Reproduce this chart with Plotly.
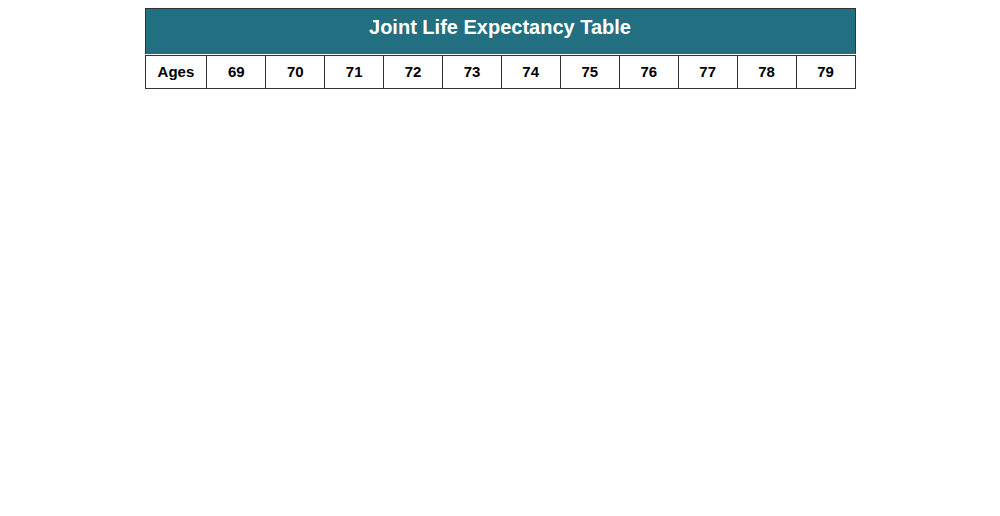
import plotly.graph_objects as go

title = "Joint Life Expectancy Table"
ages = ["107", "108", "109", "110", "111", "112", "113", "114", "115", "116", "117", "118", "119", "120+"]
spouse_ages = ["69", "70", "71", "72", "73", "74", "75", "76", "77", "78", "79"]

age_69 = [19.6, 19.6, 19.6, 19.6, 19.6, 19.6, 19.6, 19.6, 19.6, 19.6, 19.6, 19.6, 19.6, 19.6]
age_70 = [18.8, 18.8, 18.8, 18.8, 18.8, 18.8, 18.8, 18.8, 18.8, 18.8, 18.8, 18.8, 18.8, 18.8]
age_71 = [18.0, 18.0, 18.0, 18.0, 18.0, 18.0, 18.0, 18.0, 18.0, 18.0, 18.0, 18.0, 18.0, 18.0]
age_72 = [17.2, 17.2, 17.2, 17.2, 17.2, 17.2, 17.2, 17.2, 17.2, 17.2, 17.2, 17.2, 17.2, 17.2]
age_73 = [16.5, 16.5, 16.4, 16.4, 16.4, 16.4, 16.4, 16.4, 16.4, 16.4, 16.4, 16.4, 16.4, 16.4]
age_74 = [15.7, 15.7, 15.7, 15.7, 15.7, 15.7, 15.7, 15.7, 15.7, 15.6, 15.6, 15.6, 15.6, 15.6]
age_75 = [14.9, 14.9, 14.9, 14.9, 14.9, 14.9, 14.9, 14.9, 14.9, 14.9, 14.9, 14.9, 14.8, 14.8]
age_76 = [14.2, 14.2, 14.2, 14.2, 14.2, 14.2, 14.2, 14.1, 14.1, 14.1, 14.1, 14.1, 14.1, 14.1]
age_77 = [13.4, 13.4, 13.4, 13.4, 13.4, 13.4, 13.4, 13.4, 13.4, 13.4, 13.4, 13.4, 13.4, 13.3]
age_78 = [12.7, 12.7, 12.7, 12.7, 12.7, 12.7, 12.7, 12.7, 12.7, 12.7, 12.7, 12.6, 12.6, 12.6]
age_79 = [12.0, 12.0, 12.0, 12.0, 12.0, 12.0, 12.0, 12.0, 12.0, 12.0, 12.0, 11.9, 11.9, 11.9]

value_columns = [age_69, age_70, age_71, age_72, age_73, age_74, age_75, age_76, age_77, age_78, age_79]

W, H = 1000, 516
off = 8  # page body margin
left, right, top_title, top_table = 145 - off, 855 - off, 8 - off, 55 - off
teal = "#236f82"
font = "Liberation Sans, Arial"

header = ["<b>Ages</b>"] + ["<b>%s</b>" % a for a in spouse_ages]
cells = [["<b>%s</b>" % a for a in ages]] + [["%.1f" % v for v in col] for col in value_columns]

fig = go.Figure()

# title bar as a one-cell table
fig.add_trace(go.Table(
    domain=dict(x=[left / W, right / W], y=[1 - top_table / H, 1 - top_title / H]),
    header=dict(values=["<b>%s</b>" % title], height=46, align="center", fill_color=teal,
                line=dict(color="#333333", width=1),
                font=dict(family=font, size=20, color="white")),
    cells=dict(values=[[]], height=0),
))

fig.add_trace(go.Table(
    domain=dict(x=[left / W, right / W], y=[0, 1 - top_table / H]),
    columnwidth=[62] + [59] * 11,
    header=dict(values=header, height=30, align="center", fill_color="white",
                line=dict(color="#333333", width=1),
                font=dict(family=font, size=15, color="black")),
    cells=dict(values=cells, height=30, align="center", fill_color="white",
               line=dict(color="#333333", width=1),
               font=dict(family=font, size=15, color="black")),
))

fig.update_layout(width=W, height=H, margin=dict(l=0, r=0, t=0, b=0),
                  paper_bgcolor="white", plot_bgcolor="white")

fig.write_html("out.html")
